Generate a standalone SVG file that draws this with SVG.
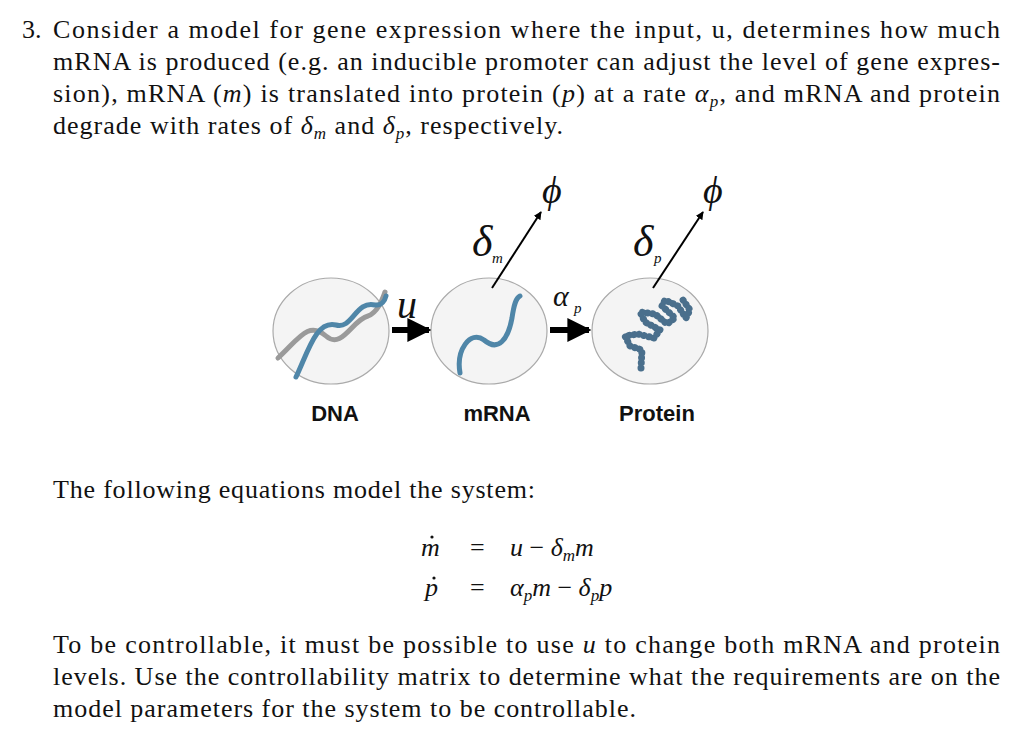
<svg xmlns="http://www.w3.org/2000/svg" width="1024" height="743" viewBox="0 0 1024 743">
<defs>
<style>
.t{font-family:"Liberation Serif",serif;font-size:26px;fill:#111}
.i{font-style:italic}
.lab{font-family:"Liberation Sans",Arial,sans-serif;font-size:22px;font-weight:bold;fill:#111}
.cell{fill:#f4f4f4;stroke:#aaa;stroke-width:1.2}
.deg{stroke:#000;stroke-width:2;fill:none}
.blue{stroke:#4f86a8;stroke-width:5;fill:none;stroke-linecap:round}
.gray{stroke:#9a9a9a;stroke-width:5;fill:none;stroke-linecap:round}
</style>
<marker id="ah" viewBox="0 0 10 10" refX="9" refY="5" markerWidth="4" markerHeight="4" orient="auto"><path d="M0,0L10,5L0,10z" fill="#000"/></marker>
</defs>
<rect width="1024" height="743" fill="#fff"/>
<g id="text-top">
<text class="t" x="22" y="38">3.</text>
<text class="t" x="53" y="38" textLength="947" lengthAdjust="spacing">Consider a model for gene expression where the input, u, determines how much</text>
<text class="t" x="53" y="70" textLength="947" lengthAdjust="spacing">mRNA is produced (e.g. an inducible promoter can adjust the level of gene expres-</text>
<text class="t" x="53" y="102" textLength="947" lengthAdjust="spacing">sion), mRNA (<tspan class="i">m</tspan>) is translated into protein (<tspan class="i">p</tspan>) at a rate <tspan class="i">α</tspan><tspan class="i" style="font-size:17px" dy="5">p</tspan><tspan dy="-5">, and mRNA and protein</tspan></text>
<text class="t" x="53" y="134" textLength="510" lengthAdjust="spacing">degrade with rates of <tspan class="i">δ</tspan><tspan class="i" style="font-size:17px" dy="5">m</tspan><tspan dy="-5"> and </tspan><tspan class="i">δ</tspan><tspan class="i" style="font-size:17px" dy="5">p</tspan><tspan dy="-5">, respectively.</tspan></text>
</g>
<g id="node-dna">
<ellipse class="cell" cx="331" cy="331" rx="58" ry="53"/>
<path class="gray" d="M278,358 C298,340 308,320 326,336 C342,350 352,320 368,316 C378,312 382,300 385,292"/>
<path class="blue" d="M296,377 C308,352 316,320 336,325 C352,330 356,300 375,305 C382,306 385,300 386,296"/>
<text class="lab" x="335" y="421" text-anchor="middle">DNA</text>
</g>
<g id="node-mrna">
<ellipse class="cell" cx="489" cy="331" rx="58" ry="53"/>
<path class="blue" d="M460,373 C456,350 470,330 484,340 C498,352 508,340 512,318 C514,304 516,298 520,296"/>
<text class="lab" x="497" y="421" text-anchor="middle">mRNA</text>
</g>
<g id="node-protein">
<ellipse class="cell" cx="650" cy="331" rx="58" ry="53"/>
<path d="M641,368 L642,350 L630,346 L625,336 L638,334 L654,338 L660,330 L645,322 L640,312 L655,314 L667,324 L675,318 L662,306 L665,300 L678,306 L686,318 L690,310 L683,300" fill="none" stroke="#4a6f8c" stroke-width="7" stroke-linecap="round" stroke-linejoin="round" stroke-dasharray="0.1 5"/>
<text class="lab" x="657" y="421" text-anchor="middle">Protein</text>
</g>
<g id="connectors">
<line x1="392" y1="330" x2="429" y2="330" stroke="#000" stroke-width="6" marker-end="url(#ah)"/>
<line x1="550" y1="330" x2="589" y2="330" stroke="#000" stroke-width="6" marker-end="url(#ah)"/>
<line class="deg" x1="492" y1="288" x2="541" y2="212" marker-end="url(#ah)"/>
<line class="deg" x1="653" y1="288" x2="703" y2="212" marker-end="url(#ah)"/>
</g>
<g id="labels">
<text class="t i" x="397" y="318" style="font-size:40px">u</text>
<text class="t i" x="553" y="306" style="font-size:30px">α</text>
<text class="t i" x="574" y="313" style="font-size:15px">p</text>
<text class="t i" x="472" y="256" style="font-size:44px">δ</text>
<text class="t i" x="492" y="263" style="font-size:15px">m</text>
<text class="t i" x="633" y="256" style="font-size:44px">δ</text>
<text class="t i" x="654" y="263" style="font-size:15px">p</text>
<text class="t i" x="542" y="203" style="font-size:38px">ϕ</text>
<text class="t i" x="703" y="203" style="font-size:38px">ϕ</text>
</g>
<g id="text-eq">
<text class="t" x="53" y="498" textLength="482" lengthAdjust="spacing">The following equations model the system:</text>
<text class="t i" x="421" y="556">m</text><circle cx="432" cy="537" r="1.6" fill="#111"/>
<text class="t" x="470" y="556">=</text>
<text class="t" x="510" y="556"><tspan class="i">u</tspan> − <tspan class="i">δ</tspan><tspan class="i" style="font-size:17px" dy="5">m</tspan><tspan class="i" dy="-5">m</tspan></text>
<text class="t i" x="425" y="596">p</text><circle cx="434" cy="578" r="1.6" fill="#111"/>
<text class="t" x="470" y="596">=</text>
<text class="t" x="510" y="596"><tspan class="i">α</tspan><tspan class="i" style="font-size:17px" dy="5">p</tspan><tspan class="i" dy="-5">m</tspan> − <tspan class="i">δ</tspan><tspan class="i" style="font-size:17px" dy="5">p</tspan><tspan class="i" dy="-5">p</tspan></text>
</g>
<g id="text-bottom">
<text class="t" x="53" y="653" textLength="947" lengthAdjust="spacing">To be controllable, it must be possible to use <tspan class="i">u</tspan> to change both mRNA and protein</text>
<text class="t" x="53" y="685" textLength="947" lengthAdjust="spacing">levels. Use the controllability matrix to determine what the requirements are on the</text>
<text class="t" x="53" y="717" textLength="583" lengthAdjust="spacing">model parameters for the system to be controllable.</text>
</g>
</svg>
